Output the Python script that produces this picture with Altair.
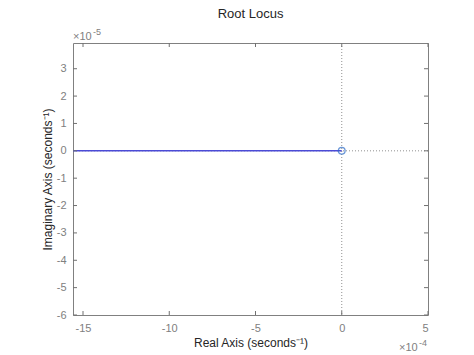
import altair as alt
import pandas as pd

# Data (axis units: real ×1e-4, imaginary ×1e-5)
locus_re = [-15.58, 0.0]
locus_im = [0.0, 0.0]
zero_re = [0.0]
zero_im = [0.0]
x_ticks = [-15, -10, -5, 0, 5]
y_ticks = [-6, -5, -4, -3, -2, -1, 0, 1, 2, 3]
x_domain = [-15.58, 5]
y_domain = [-6, 3.94]
exp_base = ["×10", "×10"]
exp_power = ["-5", "-4"]

W, H = 355, 272
FONT = "Liberation Sans"
GRAY = "#808080"
DARK = "#262626"

xs = alt.Scale(domain=x_domain, nice=False, zero=False)
ys = alt.Scale(domain=y_domain, nice=False, zero=False)

locus = pd.DataFrame({"re": locus_re, "im": locus_im})
zeros = pd.DataFrame({"re": zero_re, "im": zero_im})
xt = pd.DataFrame({"v": x_ticks})
yt = pd.DataFrame({"v": y_ticks})
ann = pd.DataFrame({"b": exp_base, "p": exp_power, "k": ["y", "x"]})

common = dict(ticks=False, domain=False, grid=False,
              labelExpr="datum.value + ''",
              labelFont=FONT, labelFontSize=11, labelColor=GRAY, labelOverlap=False,
              titleFont=FONT, titleFontSize=12, titleFontWeight="normal", titleColor=DARK)
x_axis = alt.Axis(values=x_ticks, labelPadding=7, titlePadding=4,
                  title="Real Axis (seconds⁻¹)", **common)
y_axis = alt.Axis(values=y_ticks, labelPadding=7, titlePadding=2,
                  title="Imaginary Axis (seconds⁻¹)", **common)


def X(f):
    return alt.X(f, scale=xs, axis=x_axis)


def Y(f):
    return alt.Y(f, scale=ys, axis=y_axis)


base_line = alt.Chart(locus).mark_line(color="#4b4bd6", strokeWidth=1.5).encode(
    x=X("re:Q"), y=Y("im:Q"),
)

vdot = alt.Chart(zeros).mark_rule(color="#909090", strokeDash=[1, 2], strokeWidth=1).encode(
    x=X("re:Q"), y=alt.value(0), y2=alt.value(H)
)
hdot = alt.Chart(zeros).mark_rule(color="#909090", strokeDash=[1, 2], strokeWidth=1).encode(
    y=Y("im:Q"), x=alt.value(0), x2=alt.value(W)
)

zero_pt = alt.Chart(zeros).mark_point(shape="circle", filled=False, color="#2a6bc8",
                                      size=45, strokeWidth=1.3).encode(
    x=X("re:Q"), y=Y("im:Q")
)

tick_col = "#707070"
xb = alt.Chart(xt).mark_rule(color=tick_col).encode(
    x=X("v:Q"), y=alt.value(H), y2=alt.value(H - 4))
xtp = alt.Chart(xt).mark_rule(color=tick_col).encode(
    x=X("v:Q"), y=alt.value(0), y2=alt.value(4))
yl = alt.Chart(yt).mark_rule(color=tick_col).encode(
    y=Y("v:Q"), x=alt.value(0), x2=alt.value(4))
yr = alt.Chart(yt).mark_rule(color=tick_col).encode(
    y=Y("v:Q"), x=alt.value(W), x2=alt.value(W - 4))

ann_y_b = alt.Chart(ann).transform_filter("datum.k == 'y'").mark_text(
    align="left", baseline="alphabetic", font=FONT, fontSize=11, color=GRAY
).encode(text="b:N", x=alt.value(0), y=alt.value(-3))
ann_y_p = alt.Chart(ann).transform_filter("datum.k == 'y'").mark_text(
    align="left", baseline="alphabetic", font=FONT, fontSize=9, color=GRAY
).encode(text="p:N", x=alt.value(20), y=alt.value(-8))
ann_x_b = alt.Chart(ann).transform_filter("datum.k == 'x'").mark_text(
    align="left", baseline="alphabetic", font=FONT, fontSize=11, color=GRAY
).encode(text="b:N", x=alt.value(W - 29), y=alt.value(H + 36))
ann_x_p = alt.Chart(ann).transform_filter("datum.k == 'x'").mark_text(
    align="left", baseline="alphabetic", font=FONT, fontSize=9, color=GRAY
).encode(text="p:N", x=alt.value(W - 9), y=alt.value(H + 31))

chart = alt.layer(
    vdot, hdot, base_line, zero_pt, xb, xtp, yl, yr, ann_y_b, ann_y_p, ann_x_b, ann_x_p
).properties(
    width=W, height=H,
    title=alt.TitleParams("Root Locus", font=FONT, fontSize=13, fontWeight="normal",
                          color=DARK, frame="group", offset=7),
    autosize=alt.AutoSizeParams(type="none"),
    padding={"left": 73, "top": 43, "right": 46, "bottom": 40},
    background="white",
).configure_view(
    stroke=GRAY, strokeWidth=1
)

chart.save("out.html", embed_options={"renderer": "svg", "actions": False})
